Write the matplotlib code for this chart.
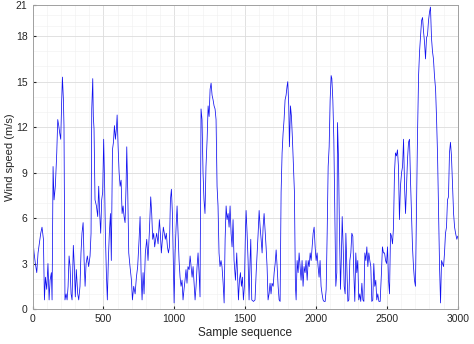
import numpy as np
import matplotlib
matplotlib.use('Agg')
import matplotlib.pyplot as plt
from matplotlib.ticker import MultipleLocator

# wind speed samples (sample index, m/s)
sample = [0, 1, 11, 20, 30, 39, 48, 58, 67, 77, 84, 91, 100, 109, 117, 124, 133, 138,
          145, 152, 161, 171, 178, 185, 192, 199, 206, 211, 218, 222, 229, 237, 244,
          251, 258, 265, 272, 279, 288, 295, 302, 309, 319, 326, 335, 342, 349, 357,
          364, 371, 378, 387, 396, 406, 413, 418, 425, 429, 434, 441, 451, 460, 467,
          474, 481, 488, 495, 502, 509, 514, 521, 528, 535, 542, 550, 556, 564, 571,
          578, 585, 592, 597, 604, 611, 618, 625, 632, 639, 646, 653, 660, 665, 672,
          679, 688, 698, 705, 714, 724, 733, 742, 752, 759, 766, 773, 780, 787, 796,
          806, 815, 824, 834, 841, 848, 855, 862, 869, 876, 886, 895, 902, 909, 916,
          923, 930, 937, 944, 952, 959, 966, 973, 980, 987, 994, 999, 1006, 1013,
          1020, 1027, 1034, 1041, 1048, 1055, 1062, 1069, 1076, 1083, 1090, 1097,
          1105, 1112, 1119, 1126, 1133, 1140, 1147, 1154, 1161, 1168, 1175, 1182,
          1189, 1196, 1203, 1210, 1217, 1224, 1232, 1239, 1246, 1253, 1260, 1267,
          1274, 1281, 1288, 1295, 1302, 1309, 1316, 1323, 1330, 1337, 1345, 1352,
          1359, 1366, 1373, 1380, 1387, 1394, 1401, 1408, 1415, 1422, 1432, 1441,
          1453, 1460, 1467, 1474, 1481, 1488, 1495, 1502, 1507, 1514, 1521, 1528,
          1535, 1540, 1547, 1559, 1570, 1578, 1585, 1592, 1599, 1606, 1613, 1620,
          1627, 1634, 1641, 1648, 1655, 1662, 1669, 1676, 1683, 1690, 1698, 1705,
          1712, 1719, 1726, 1733, 1740, 1747, 1754, 1761, 1768, 1775, 1782, 1789,
          1796, 1801, 1808, 1813, 1820, 1827, 1834, 1841, 1848, 1855, 1860, 1867,
          1874, 1881, 1888, 1895, 1902, 1909, 1916, 1923, 1930, 1938, 1945, 1952,
          1959, 1966, 1973, 1980, 1987, 1994, 2001, 2008, 2015, 2022, 2029, 2036,
          2043, 2050, 2057, 2065, 2072, 2079, 2086, 2093, 2100, 2107, 2112, 2119,
          2126, 2133, 2140, 2147, 2152, 2159, 2166, 2173, 2180, 2185, 2192, 2199,
          2206, 2211, 2218, 2225, 2232, 2239, 2246, 2253, 2260, 2267, 2274, 2281,
          2288, 2295, 2302, 2309, 2316, 2324, 2331, 2338, 2345, 2352, 2359, 2366,
          2373, 2380, 2387, 2394, 2401, 2408, 2415, 2422, 2429, 2436, 2444, 2453,
          2462, 2469, 2476, 2484, 2491, 2498, 2505, 2512, 2519, 2526, 2533, 2540,
          2547, 2554, 2561, 2568, 2575, 2582, 2589, 2596, 2604, 2611, 2618, 2625,
          2632, 2639, 2646, 2653, 2660, 2667, 2674, 2681, 2688, 2695, 2702, 2709,
          2716, 2724, 2731, 2738, 2745, 2752, 2759, 2766, 2773, 2780, 2787, 2794,
          2801, 2808, 2815, 2822, 2829, 2836, 2844, 2851, 2858, 2865, 2872, 2879,
          2886, 2893, 2900, 2907, 2914, 2921, 2928, 2935, 2942, 2949, 2956, 2964,
          2971, 2978, 2985, 2994, 3000]
speed = [4.8, 4.8, 3.7, 3.0, 2.4, 3.7, 4.3, 5.0, 5.4, 4.6, 0.6, 2.1, 1.3, 3.0, 0.6, 1.9, 2.4, 0.6,
         9.4, 7.2, 8.1, 10.3, 12.5, 12.1, 11.6, 11.2, 13.8, 15.3, 13.8, 12.1, 0.6, 1.0, 0.6,
         1.5, 3.5, 2.8, 1.0, 0.6, 4.2, 2.8, 0.8, 2.6, 1.0, 0.6, 1.5, 3.7, 5.0, 5.7,
         3.2, 1.5, 3.0, 3.5, 2.8, 3.5, 5.0, 13.2, 15.2, 12.7, 11.9, 7.2, 6.8, 6.1, 8.1,
         6.3, 5.0, 7.2, 7.7, 11.2, 8.1, 5.0, 2.4, 0.6, 3.2, 5.0, 6.3, 3.2, 10.5, 11.0,
         12.1, 11.2, 11.9, 12.8, 10.7, 9.0, 8.1, 8.5, 6.3, 6.8, 6.1, 5.7, 8.1, 10.7, 7.7,
         3.7, 2.8, 1.9, 0.6, 1.5, 1.0, 2.1, 2.8, 4.6, 6.1, 2.4, 0.6, 2.4, 1.0, 3.7,
         4.6, 3.2, 5.0, 7.4, 6.3, 4.6, 5.0, 4.1, 4.6, 5.0, 4.3, 5.9, 5.0, 3.7, 4.6,
         5.4, 5.0, 4.6, 5.0, 4.1, 3.7, 4.1, 7.2, 7.9, 6.3, 2.8, 0.4, 3.7, 5.4,
         6.8, 5.0, 3.2, 2.1, 1.5, 1.9, 0.6, 1.3, 1.9, 2.6, 1.7, 2.8,
         2.6, 3.5, 2.8, 2.1, 2.8, 1.7, 0.6, 1.5, 2.8, 3.7, 2.4, 0.8,
         13.2, 12.5, 9.0, 7.2, 6.3, 9.4, 11.2, 13.4, 12.7, 14.5, 14.9, 14.1,
         13.8, 13.4, 13.2, 12.5, 8.1, 6.8, 3.7, 2.8, 3.2, 2.8, 1.7, 0.4,
         4.6, 6.8, 5.9, 6.3, 5.4, 6.8, 5.0, 4.1, 5.9, 3.2, 1.9, 3.7,
         0.6, 1.9, 2.4, 1.5, 2.1, 0.6, 1.5, 5.0, 6.5, 5.0, 3.2, 0.6,
         3.2, 4.6, 0.6, 0.5, 0.6, 2.4, 3.7, 5.0, 6.5, 5.4, 4.6, 3.7,
         5.4, 6.3, 5.2, 4.1, 2.8, 0.6, 1.0, 1.7, 1.0, 1.7, 1.5, 2.4,
         3.0, 3.9, 2.8, 1.5, 0.6, 0.5, 7.7, 10.3, 11.6, 12.5, 13.8, 14.1,
         14.7, 15.0, 13.4, 10.7, 13.4, 12.7, 11.2, 9.4, 7.7, 1.5, 0.6, 3.2,
         2.4, 3.7, 2.8, 1.9, 3.2, 1.5, 2.8, 2.4, 3.2, 1.9, 3.2, 2.8,
         3.7, 3.2, 4.1, 5.0, 5.4, 4.1, 3.2, 3.7, 2.8, 2.1, 3.2, 1.5,
         1.0, 0.6, 0.5, 0.5, 1.3, 5.0, 9.4, 10.7, 13.8, 15.4, 15.2, 13.8,
         11.2, 6.3, 1.5, 2.4, 12.3, 9.9, 5.0, 1.3, 3.7, 6.1, 4.1, 1.5,
         1.0, 5.0, 2.8, 0.5, 0.6, 3.2, 3.7, 5.0, 4.8, 2.4, 0.5, 3.7,
         2.4, 3.2, 0.6, 1.0, 0.5, 1.7, 0.6, 0.5, 3.7, 3.2, 4.1, 2.8,
         3.7, 3.2, 2.8, 0.5, 0.6, 3.0, 1.5, 1.9, 0.6, 1.0, 0.5, 0.5,
         2.4, 4.1, 3.7, 3.7, 3.2, 3.0, 4.1, 1.9, 1.0, 5.0, 4.8, 4.3,
         5.4, 9.0, 10.3, 10.1, 10.5, 9.4, 5.9, 8.1, 9.0, 9.4, 11.2, 8.1,
         6.3, 8.1, 9.9, 11.0, 11.2, 8.5, 6.3, 4.1, 2.8, 1.9, 1.5, 6.3,
         11.2, 15.4, 17.0, 18.1, 19.5, 19.8, 18.45, 17.6, 16.5, 17.9, 18.1, 19.5,
         20.3, 20.8, 17.9, 17.0, 16.5, 15.4, 14.5, 12.5, 10.1, 6.3, 2.8, 0.4,
         3.2, 3.0, 2.8, 3.7, 5.0, 5.4, 7.2, 7.4, 10.3, 11.0, 10.1, 8.1,
         6.3, 5.4, 5.0, 4.6, 4.8]

x_ticks = [0, 500, 1000, 1500, 2000, 2500, 3000]
y_ticks = [0, 3, 6, 9, 12, 15, 18, 21]

# the top band (18-21) is squeezed in the reference
k_top = 0.685
def fwd(y):
    y = np.asarray(y, dtype=float)
    return np.where(y <= 18, y, 18 + (y - 18) * k_top)
def inv(y):
    y = np.asarray(y, dtype=float)
    return np.where(y <= 18, y, 18 + (y - 18) / k_top)

plt.rcParams['font.family'] = ['Liberation Sans', 'DejaVu Sans']

fig = plt.figure(figsize=(4.74, 3.44), dpi=100)
ax = fig.add_axes([0.0686, 0.1017, 0.897, 0.8837])

ax.plot(sample, speed, color='#1010f0', linewidth=0.55)

ax.set_yscale('function', functions=(fwd, inv))
ax.set_xlim(0, 3000)
ax.set_ylim(0, 21)
ax.set_xticks(x_ticks)
ax.set_yticks(y_ticks)
ax.xaxis.set_minor_locator(MultipleLocator(100))
ax.yaxis.set_minor_locator(MultipleLocator(1))

ax.grid(which='major', color='#dcdcdc', linewidth=0.6)
ax.grid(which='minor', color='#efefef', linewidth=0.4)
ax.set_axisbelow(True)

ax.tick_params(which='both', direction='in', colors='#262626', labelsize=7.5,
               length=2.5, top=False, right=False)
ax.tick_params(which='minor', length=0)
for sp in ax.spines.values():
    sp.set_color('#a0a0a0')
    sp.set_linewidth(0.7)

ax.set_xlabel('Sample sequence', fontsize=8.5, color='#262626', labelpad=2)
ax.set_ylabel('Wind speed (m/s)', fontsize=8, color='#262626', labelpad=1)

fig.savefig('out.png', dpi=100)
